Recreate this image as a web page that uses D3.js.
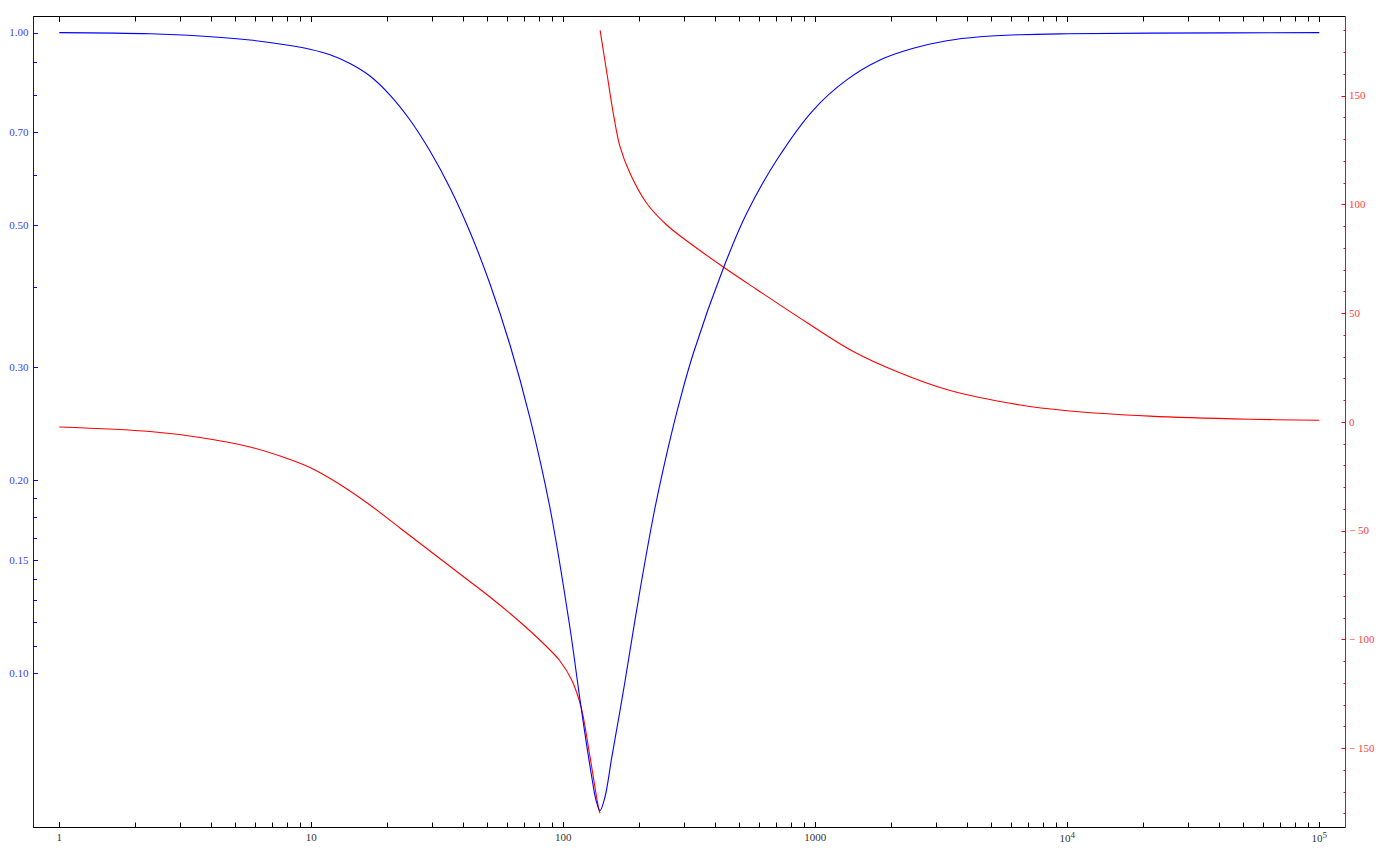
<!DOCTYPE html>
<html>
<head>
<meta charset="utf-8">
<script src="https://cdn.jsdelivr.net/npm/d3@7"></script>
<style>
html,body{margin:0;padding:0;background:#fff;}
svg{display:block;}
text{font-family:"Liberation Serif","DejaVu Serif",serif;font-size:11px;}
</style>
</head>
<body>
<svg id="chart" width="1388" height="853"></svg>
<script>
// ---- data ----
const magFreq = [1, 2.29, 3.617, 5.71, 8.232, 9.972, 11.865, 14.24, 17.094, 20.52, 24.64, 29.58, 35.51, 42.63, 51.18, 61.44, 73.76, 88.55, 106.3, 113.6, 117.6, 123.8, 129.65, 134.8, 139.85, 146.4, 155.6, 167.9, 175.8, 201.6, 231.1, 261.0, 290.4, 328.1, 431.5, 534.2, 702.9, 982, 1332.6, 1806, 2448, 3322, 4504, 6492, 10000, 21290, 100000];
const magValue = [1.0, 0.99587, 0.98802, 0.97392, 0.95484, 0.94123, 0.92341, 0.89509, 0.85573, 0.79906, 0.73044, 0.65331, 0.57198, 0.48833, 0.40503, 0.32525, 0.25015, 0.18101, 0.11755, 0.09752, 0.08849, 0.07717, 0.06886, 0.06333, 0.06095, 0.06408, 0.07369, 0.08738, 0.09716, 0.13479, 0.18101, 0.22537, 0.26683, 0.3157, 0.42855, 0.52222, 0.63259, 0.75711, 0.84369, 0.9063, 0.94528, 0.97147, 0.98555, 0.99266, 0.9959, 0.9984, 1.0];

const phaseLowFreq = [1, 2.29, 3.617, 5.71, 8.232, 9.972, 12.997, 17.094, 22.48, 29.58, 38.91, 51.18, 67.32, 84.58, 97.03, 107.96, 117.6, 127.6, 138.57, 140.0];
const phaseLowValue = [-2.38, -4.45, -7.21, -11.57, -17.32, -21.23, -28.82, -38.24, -48.81, -59.39, -69.97, -80.54, -92.04, -102.61, -109.96, -118.7, -131.11, -153.97, -178.48, -180];

const phaseHighFreq = [140.0, 148.67, 157.89, 167.91, 183.94, 214.2, 257.2, 318.3, 431.5, 585.5, 924.6, 1415, 2103.5, 3322, 6492, 10000, 21290, 53080, 100000];
const phaseHighValue = [180, 160.85, 141.86, 126.51, 114.27, 100.48, 90.5, 82.09, 71.19, 60.85, 45.67, 32.34, 23.14, 14.87, 7.74, 5.1, 2.6, 1.2, 0.75];

const xMajorTicks = [1, 10, 100, 1000, 10000, 100000];
const xMajorLabels = [["1", ""], ["10", ""], ["100", ""], ["1000", ""], ["10", "4"], ["10", "5"]];
const magMajorTicks = [1.0, 0.7, 0.5, 0.3, 0.2, 0.15, 0.1];
const magMajorLabels = ["1.00", "0.70", "0.50", "0.30", "0.20", "0.15", "0.10"];
const magMinorTicks = [0.9, 0.8, 0.6, 0.4, 0.1875, 0.175, 0.1625, 0.14, 0.13, 0.12, 0.11];
const phaseMajorTicks = [150, 100, 50, 0, -50, -100, -150];
const phaseMajorLabels = ["150", "100", "50", "0", "\u2212 50", "\u2212 100", "\u2212 150"];

// ---- layout ----
const L = 33, R = 1345, T = 16, B = 827;
const svg = d3.select("#chart");

const x = d3.scaleLog().domain([Math.pow(10, -0.1044), Math.pow(10, 5.102)]).range([L, R]);
const yMag = d3.scaleLog().domain([Math.pow(10, -1.2405), Math.pow(10, 0.026)]).range([B, T]);
const yPh = d3.scaleLinear().domain([-186.3, 186.6]).range([B, T]);

const xMinor = [];
for (let d = 0; d < 5; d++) for (let k = 2; k <= 9; k++) xMinor.push(k * Math.pow(10, d));

const g = svg.append("g");

// frame
g.append("line").attr("x1", L).attr("x2", R).attr("y1", T + 0.5).attr("y2", T + 0.5).attr("stroke", "#000");
g.append("line").attr("x1", L).attr("x2", R).attr("y1", B + 0.5).attr("y2", B + 0.5).attr("stroke", "#000");
g.append("line").attr("x1", L + 0.5).attr("x2", L + 0.5).attr("y1", T).attr("y2", B + 1).attr("stroke", "#0000ff");
g.append("line").attr("x1", R + 0.5).attr("x2", R + 0.5).attr("y1", T).attr("y2", B + 1).attr("stroke", "#ff0000");

// x ticks (bottom and top, pointing inward)
const allX = xMajorTicks.map(v => ({v, len: 5})).concat(xMinor.map(v => ({v, len: 4.5})));
allX.forEach(t => {
  const px = Math.round(x(t.v)) + 0.5;
  g.append("line").attr("x1", px).attr("x2", px).attr("y1", B).attr("y2", B - t.len).attr("stroke", "#000");
  g.append("line").attr("x1", px).attr("x2", px).attr("y1", T + 1).attr("y2", T + 1 + t.len).attr("stroke", "#000");
});
xMajorTicks.forEach((v, i) => {
  const sup = xMajorLabels[i][1];
  const t = g.append("text").attr("x", x(v)).attr("y", sup ? 842 : 840.5).attr("text-anchor", "middle").attr("fill", "#333");
  t.append("tspan").text(xMajorLabels[i][0]);
  if (sup) t.append("tspan").attr("dy", -4.5).attr("font-size", "9px").text(sup);
});

// left (magnitude) ticks
magMajorTicks.forEach((v, i) => {
  const py = Math.round(yMag(v)) + 0.5;
  g.append("line").attr("x1", L).attr("x2", L + 5).attr("y1", py).attr("y2", py).attr("stroke", "#0000ff");
  g.append("text").attr("x", 28.5).attr("y", yMag(v)).attr("dy", "0.35em").attr("text-anchor", "end")
    .attr("fill", "#3c3cff").text(magMajorLabels[i]);
});
magMinorTicks.forEach(v => {
  const py = Math.round(yMag(v)) + 0.5;
  g.append("line").attr("x1", L).attr("x2", L + 4).attr("y1", py).attr("y2", py).attr("stroke", "#0000ff");
});

// right (phase) ticks
for (let p = -180; p <= 180; p += 10) {
  const major = p % 50 === 0;
  const py = Math.round(yPh(p)) + 0.5;
  g.append("line").attr("x1", R + 1).attr("x2", R + 1 - (major ? 4.5 : 2.5)).attr("y1", py).attr("y2", py).attr("stroke", "#ff0000");
}
phaseMajorTicks.forEach((v, i) => {
  g.append("text").attr("x", 1349).attr("y", yPh(v)).attr("dy", "0.35em").attr("text-anchor", "start")
    .attr("fill", "#ff3c3c").text(phaseMajorLabels[i]);
});

// curves
const magLine = d3.line().x(d => x(d[0])).y(d => yMag(d[1])).curve(d3.curveCatmullRom.alpha(0.5));
const phLine = d3.line().x(d => x(d[0])).y(d => yPh(d[1])).curve(d3.curveCatmullRom.alpha(0.5));

g.append("path").datum(phaseLowFreq.map((f, i) => [f, phaseLowValue[i]]))
  .attr("d", phLine).attr("fill", "none").attr("stroke", "#ff0000").attr("stroke-width", 1.1);
g.append("path").datum(phaseHighFreq.map((f, i) => [f, phaseHighValue[i]]))
  .attr("d", phLine).attr("fill", "none").attr("stroke", "#ff0000").attr("stroke-width", 1.1);
g.append("path").datum(magFreq.map((f, i) => [f, magValue[i]]))
  .attr("d", magLine).attr("fill", "none").attr("stroke", "#0000ff").attr("stroke-width", 1.1);
</script>
</body>
</html>
